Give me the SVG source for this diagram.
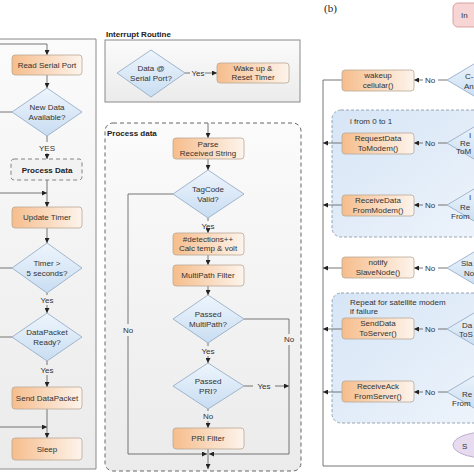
<svg xmlns="http://www.w3.org/2000/svg" width="474" height="474" viewBox="0 0 474 474">
<defs>
<linearGradient id="gOr" x1="0" y1="0" x2="1" y2="0"><stop offset="0" stop-color="#f6bd8c"/><stop offset="1" stop-color="#fdf4ec"/></linearGradient>
<linearGradient id="gBl" x1="0" y1="0" x2="0" y2="1"><stop offset="0" stop-color="#eef5fc"/><stop offset="1" stop-color="#c8ddf2"/></linearGradient>
<linearGradient id="gGr" x1="0" y1="0" x2="0" y2="1"><stop offset="0" stop-color="#fbfbfb"/><stop offset="1" stop-color="#ebebeb"/></linearGradient>
<linearGradient id="gReg" x1="0" y1="0" x2="1" y2="1"><stop offset="0" stop-color="#d6e5f6"/><stop offset="1" stop-color="#eef4fb"/></linearGradient>
<marker id="ar" markerUnits="userSpaceOnUse" markerWidth="5" markerHeight="5" refX="5" refY="2.5" orient="auto"><path d="M0,0 L5,2.5 L0,5 z" fill="#222"/></marker>
</defs>
<style>
.t{font-family:"Liberation Sans",Arial,sans-serif;font-size:8px;fill:#333;text-anchor:middle}
.ts{font-family:"Liberation Sans",Arial,sans-serif;font-size:8px;fill:#333;text-anchor:start}
.b{font-family:"Liberation Sans",Arial,sans-serif;font-size:8px;font-weight:bold;fill:#222}
.box{fill:url(#gOr);stroke:#b9a897;stroke-width:0.8}
.dia{fill:url(#gBl);stroke:#8ea6c2;stroke-width:0.8}
.pan{fill:url(#gGr);stroke:#8a8a8a;stroke-width:1}
.reg{fill:url(#gReg);stroke:#8e9bab;stroke-width:0.9;stroke-dasharray:3,2}
.c{fill:none;stroke:#666;stroke-width:0.9}
.ca{fill:none;stroke:#666;stroke-width:0.9;marker-end:url(#ar)}
</style>
<rect width="474" height="474" fill="#fff"/>

<!-- panel (a) left column -->
<g id="panelA">
<path class="pan" d="M-2,39 H96 V469 H-2"/>
</g>
<g id="interruptPanel">
<text class="b" x="106" y="37">Interrupt Routine</text>
<rect class="pan" x="105" y="40" width="195" height="62"/>
</g>
<g id="processPanel">
<rect x="105" y="123" width="196" height="348" rx="8" fill="url(#gGr)" stroke="#666" stroke-width="1" stroke-dasharray="4,3"/>
<text class="b" x="107" y="136">Process data</text>
</g>
<g id="panelB">
<text x="324" y="12" font-family="Liberation Serif,serif" font-size="11" fill="#222">(b)</text>
<rect id="region1" class="reg" x="332" y="110" width="160" height="127" rx="9"/>
<text class="ts" x="350" y="124">i from 0 to 1</text>
<rect id="region2" class="reg" x="332" y="293" width="160" height="130" rx="9"/>
<text class="ts" x="350" y="305">Repeat for satellite modem</text>
<text class="ts" x="350" y="314">if failure</text>
</g>

<g id="connectors">
<!-- left column -->
<path class="ca" d="M-2,44 H47 V55"/>
<path class="ca" d="M47,75 V88"/>
<path class="c" d="M12,112 H-2"/>
<path class="c" d="M47,136 V142"/>
<path class="ca" d="M47,153 V159"/>
<path class="ca" d="M47,180 V207"/>
<path class="ca" d="M-2,193 H47"/>
<path class="ca" d="M47,228 V243"/>
<path class="c" d="M12,268 H-2"/>
<path class="c" d="M47,293 V295"/>
<path class="ca" d="M47,305 V313"/>
<path class="c" d="M12,337 H-2"/>
<path class="c" d="M47,361 V365"/>
<path class="ca" d="M47,375 V387"/>
<path class="ca" d="M47,409 V438"/>
<path class="ca" d="M-2,427 H47"/>
<!-- interrupt -->
<path class="c" d="M185,73 H190"/>
<path class="ca" d="M205,73 H217"/>
<!-- process data -->
<path class="ca" d="M208,123 V138"/>
<path class="ca" d="M208,159 V170"/>
<path class="c" d="M208,218 V221"/>
<path class="ca" d="M208,231 V233"/>
<path class="ca" d="M208,255 V265"/>
<path class="ca" d="M208,286 V295"/>
<path class="c" d="M208,343 V346"/>
<path class="ca" d="M208,356 V363"/>
<path class="c" d="M208,409 V411"/>
<path class="ca" d="M208,421 V428"/>
<path class="c" d="M244,386 H253"/>
<path class="ca" d="M275,386 H289"/>
<path class="c" d="M173,194 H128 V324"/>
<path class="ca" d="M128,336 V454 H207"/>
<path class="c" d="M244,319 H289 V334"/>
<path class="ca" d="M289,345 V454 H209"/>
<path class="c" d="M208,449 V454"/>
<path class="ca" d="M208,454 V469"/>
<!-- panel b -->
<path class="c" d="M342,80 H323 V466 H476"/>
<path class="ca" d="M342,143 H323"/>
<path class="ca" d="M342,205 H323"/>
<path class="ca" d="M342,268 H323"/>
<path class="ca" d="M342,329 H323"/>
<path class="ca" d="M342,392 H323"/>
<path class="c" d="M447,80 H438"/><path class="ca" d="M423,80 H414"/>
<path class="c" d="M447,143 H438"/><path class="ca" d="M423,143 H414"/>
<path class="c" d="M447,205 H438"/><path class="ca" d="M423,205 H414"/>
<path class="c" d="M447,268 H438"/><path class="ca" d="M423,268 H414"/>
<path class="c" d="M447,329 H438"/><path class="ca" d="M423,329 H414"/>
<path class="c" d="M447,392 H438"/><path class="ca" d="M423,392 H414"/>
</g>

<g id="connectorLabels">
<text class="t" x="47" y="151">YES</text>
<text class="t" x="47" y="303">Yes</text>
<text class="t" x="47" y="373">Yes</text>
<text class="t" x="198" y="76">Yes</text>
<text class="t" x="208" y="229">Yes</text>
<text class="t" x="208" y="354">Yes</text>
<text class="t" x="264" y="389">Yes</text>
<text class="t" x="208" y="419">No</text>
<text class="t" x="128" y="333">No</text>
<text class="t" x="289" y="342">No</text>
<text class="t" x="430" y="83">No</text>
<text class="t" x="430" y="146">No</text>
<text class="t" x="430" y="208">No</text>
<text class="t" x="430" y="271">No</text>
<text class="t" x="430" y="332">No</text>
<text class="t" x="430" y="395">No</text>
</g>

<!-- left column nodes -->
<g id="readSerial"><rect class="box" x="12" y="55" width="70" height="20" rx="3"/><text class="t" x="47" y="68">Read Serial Port</text></g>
<g id="newData"><polygon class="dia" points="47,88 82,112 47,136 12,112"/><text class="t" x="47" y="110">New Data</text><text class="t" x="47" y="120">Available?</text></g>
<g id="processData"><rect x="11" y="159" width="71" height="21" rx="3" fill="#f2f2f2" stroke="#777" stroke-width="0.9" stroke-dasharray="4,3"/><text class="b" x="47" y="173" text-anchor="middle">Process Data</text></g>
<g id="updateTimer"><rect class="box" x="12" y="207" width="70" height="21" rx="3"/><text class="t" x="47" y="220">Update Timer</text></g>
<g id="timerCheck"><polygon class="dia" points="47,243 82,268 47,293 12,268"/><text class="t" x="47" y="266">Timer &gt;</text><text class="t" x="47" y="276">5 seconds?</text></g>
<g id="packetReady"><polygon class="dia" points="47,313 82,337 47,361 12,337"/><text class="t" x="47" y="335">DataPacket</text><text class="t" x="47" y="345">Ready?</text></g>
<g id="sendPacket"><rect class="box" x="12" y="387" width="70" height="22" rx="3"/><text class="t" x="47" y="401">Send DataPacket</text></g>
<g id="sleep"><rect class="box" x="12" y="438" width="70" height="22" rx="3"/><text class="t" x="47" y="452">Sleep</text></g>

<!-- interrupt nodes -->
<g id="dataAtPort"><polygon class="dia" points="151,50 185,73 151,97 117,73"/><text class="t" x="151" y="71">Data @</text><text class="t" x="151" y="81">Serial Port?</text></g>
<g id="wakeUp"><rect class="box" x="217" y="63" width="72" height="20" rx="3"/><text class="t" x="253" y="71">Wake up &amp;</text><text class="t" x="253" y="80">Reset Timer</text></g>

<!-- process data nodes -->
<g id="parse"><rect class="box" x="173" y="138" width="71" height="21" rx="3"/><text class="t" x="208" y="147">Parse</text><text class="t" x="208" y="156">Received String</text></g>
<g id="tagCode"><polygon class="dia" points="208,170 244,194 208,218 173,194"/><text class="t" x="208" y="192">TagCode</text><text class="t" x="208" y="202">Valid?</text></g>
<g id="detections"><rect class="box" x="173" y="233" width="71" height="22" rx="3"/><text class="t" x="208" y="242">#detections++</text><text class="t" x="208" y="251">Calc temp &amp; volt</text></g>
<g id="multiPathFilter"><rect class="box" x="173" y="265" width="71" height="21" rx="3"/><text class="t" x="208" y="278">MultiPath Filter</text></g>
<g id="passedMultiPath"><polygon class="dia" points="208,295 244,319 208,343 173,319"/><text class="t" x="208" y="317">Passed</text><text class="t" x="208" y="327">MultiPath?</text></g>
<g id="passedPRI"><polygon class="dia" points="208,363 244,386 208,409 173,386"/><text class="t" x="208" y="384">Passed</text><text class="t" x="208" y="394">PRI?</text></g>
<g id="priFilter"><rect class="box" x="173" y="428" width="71" height="21" rx="3"/><text class="t" x="208" y="441">PRI Filter</text></g>

<!-- panel b nodes -->
<g id="init"><rect x="453" y="3" width="40" height="24" rx="5" fill="#f7d5d5" stroke="#d49a9a" stroke-width="0.9"/><text class="ts" x="461" y="18">In</text></g>
<g id="wakeupCell"><rect class="box" x="342" y="70" width="72" height="21" rx="3"/><text class="t" x="378" y="78">wakeup</text><text class="t" x="378" y="88">cellular()</text></g>
<g id="dia1"><polygon class="dia" points="447,80 479,61 511,80 479,99"/><text class="ts" x="465" y="79">C-</text><text class="ts" x="464" y="89">An</text></g>
<g id="requestData"><rect class="box" x="342" y="133" width="72" height="21" rx="3"/><text class="t" x="378" y="141">RequestData</text><text class="t" x="378" y="151">ToModem()</text></g>
<g id="dia2"><polygon class="dia" points="447,143 479,124 511,143 479,162"/><text class="ts" x="469" y="138">I</text><text class="ts" x="460" y="146">Re</text><text class="ts" x="456" y="154">ToM</text></g>
<g id="receiveData"><rect class="box" x="342" y="195" width="72" height="21" rx="3"/><text class="t" x="378" y="203">ReceiveData</text><text class="t" x="378" y="213">FromModem()</text></g>
<g id="dia3"><polygon class="dia" points="447,205 479,186 511,205 479,224"/><text class="ts" x="469" y="200">I</text><text class="ts" x="460" y="210">Re</text><text class="ts" x="451" y="219">From</text></g>
<g id="notifySlave"><rect class="box" x="342" y="257" width="72" height="21" rx="3"/><text class="t" x="378" y="265">notify</text><text class="t" x="378" y="275">SlaveNode()</text></g>
<g id="dia4"><polygon class="dia" points="447,268 479,249 511,268 479,287"/><text class="ts" x="461" y="266">Sla</text><text class="ts" x="464" y="276">No</text></g>
<g id="sendData"><rect class="box" x="342" y="318" width="72" height="21" rx="3"/><text class="t" x="378" y="326">SendData</text><text class="t" x="378" y="336">ToServer()</text></g>
<g id="dia5"><polygon class="dia" points="447,329 479,310 511,329 479,348"/><text class="ts" x="462" y="328">Da</text><text class="ts" x="459" y="337">ToS</text></g>
<g id="receiveAck"><rect class="box" x="342" y="381" width="72" height="21" rx="3"/><text class="t" x="378" y="389">ReceiveAck</text><text class="t" x="378" y="399">FromServer()</text></g>
<g id="dia6"><polygon class="dia" points="447,392 479,373 511,392 479,411"/><text class="ts" x="462" y="397">Re</text><text class="ts" x="452" y="406">From</text></g>
<g id="stop"><ellipse cx="486" cy="445" rx="33" ry="13" fill="#e6dbef" stroke="#b7a6c6" stroke-width="0.9"/><text class="ts" x="462" y="449">S</text></g>
</svg>
